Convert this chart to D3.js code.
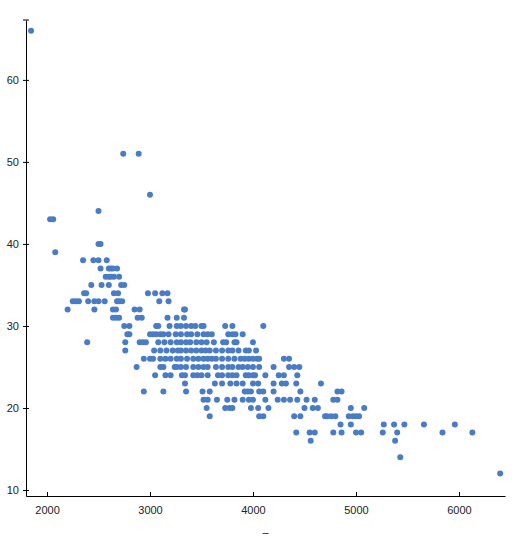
<!DOCTYPE html>
<html>
<head>
<meta charset="utf-8">
<script src="https://d3js.org/d3.v7.min.js"></script>
<style>
body { margin: 0; background: #fff; }
text { font-family: "Liberation Sans", Arial, sans-serif; font-size: 11px; fill: #222; }
</style>
</head>
<body>
<div class="holder"></div>
<script>
// mpg rows: weights for each integer mpg value
var mpgRows = [66, 51, 46, 44, 43, 40, 39, 38, 37, 36, 35, 34, 33, 32, 31, 30, 29, 28, 27, 26, 25, 24, 23, 22, 21, 20, 19, 18, 17, 16, 14, 12];
var weightRows = [
    [1845],
    [2740, 2890],
    [3000],
    [2500],
    [2030, 2060],
    [2500, 2520],
    [2080],
    [2350, 2450, 2500, 2580],
    [2520, 2600, 2620, 2640, 2680],
    [2570, 2600, 2620, 2650, 2700],
    [2430, 2530, 2600, 2720, 2750],
    [2360, 2380, 2650, 2690, 2980, 3050, 3120, 3170],
    [2250, 2280, 2310, 2400, 2460, 2500, 2560, 2680, 2700, 2730, 3090, 3180],
    [2200, 2460, 2640, 2670, 2850, 2900, 3330, 3340],
    [2640, 2670, 2700, 2880, 2920, 3170, 3260, 3330],
    [2750, 2800, 3060, 3080, 3190, 3260, 3300, 3350, 3400, 3440, 3500, 3520, 3730, 3800, 4100],
    [2780, 2800, 3000, 3030, 3060, 3100, 3130, 3180, 3250, 3300, 3360, 3400, 3460, 3520, 3560, 3600, 3760, 3800, 3830, 3900],
    [2390, 2760, 2900, 2930, 2960, 3080, 3140, 3200, 3260, 3300, 3350, 3390, 3450, 3500, 3550, 3620, 3710, 3740, 3820, 3840, 4000],
    [2760, 3040, 3100, 3160, 3220, 3270, 3300, 3350, 3400, 3450, 3500, 3540, 3580, 3640, 3700, 3760, 3800, 3860, 3930, 3960, 4030],
    [2940, 3000, 3030, 3100, 3150, 3200, 3260, 3300, 3360, 3420, 3470, 3520, 3560, 3600, 3640, 3700, 3760, 3820, 3880, 3920, 3960, 4000, 4040, 4060, 4300, 4350],
    [2870, 3100, 3130, 3240, 3260, 3300, 3350, 3420, 3470, 3520, 3560, 3640, 3700, 3760, 3800, 3860, 3900, 3950, 4000, 4060, 4200, 4350, 4400, 4450],
    [3050, 3150, 3200, 3310, 3340, 3420, 3460, 3500, 3560, 3660, 3700, 3760, 3800, 3840, 3930, 3960, 4000, 4020, 4120, 4250, 4300, 4430],
    [3340, 3630, 3700, 3780, 3840, 3900, 4000, 4050, 4200, 4280, 4320, 4420, 4660],
    [2940, 3130, 3350, 3510, 3580, 3920, 3950, 3980, 4060, 4100, 4200, 4460, 4820, 4860],
    [3520, 3560, 3650, 3750, 3820, 3900, 3960, 4000, 4120, 4240, 4300, 4360, 4430, 4520, 4600, 4780, 4820],
    [3550, 3730, 3770, 3800, 3980, 4050, 4150, 4500, 4580, 4630, 4950, 5080],
    [3580, 4060, 4100, 4400, 4460, 4700, 4720, 4760, 4800, 4930, 4970, 5000, 5030],
    [4850, 4950, 5270, 5370, 5470, 5660, 5960],
    [4420, 4550, 4600, 4780, 4860, 5000, 5050, 5260, 5400, 5840, 6130],
    [4560, 5380],
    [5430],
    [6400]
];
var xTicks = [2000, 3000, 4000, 5000, 6000];
var yTicks = [10, 20, 30, 40, 50, 60];

var points = [];
mpgRows.forEach(function(m, i) {
    weightRows[i].forEach(function(w) { points.push({weight: w, mpg: m}); });
});

var width = 524, height = 540;
var mLeft = 26, mRight = 505, mTop = 20, mBottom = 496;

var x = d3.scaleLinear().domain([1796, 6447]).range([mLeft, mRight]);
var y = d3.scaleLinear().domain([9.27, 67.3]).range([mBottom, mTop]);

var svg = d3.select(".holder").append("svg")
    .attr("width", width)
    .attr("height", height);

svg.append("g")
    .attr("transform", "translate(0," + mBottom + ")")
    .call(d3.axisBottom(x).tickValues(xTicks).tickFormat(d3.format("d")).tickSize(-4).tickSizeOuter(0).tickPadding(10))
    .call(g => g.select(".domain").attr("stroke", "#000"));

svg.append("g")
    .attr("transform", "translate(" + mLeft + ",0)")
    .call(d3.axisLeft(y).tickValues(yTicks).tickFormat(d3.format("d")).tickSize(3).tickSizeOuter(0).tickPadding(4))
    .call(g => g.select(".domain").attr("stroke", "#000"))
    .call(g => g.selectAll(".tick line").attr("x1", 3).attr("x2", -3));

svg.selectAll("text").style("font-size", "11px").style("font-family", "Liberation Sans, Arial, sans-serif");

// little cap at the top of the y axis
svg.append("line")
    .attr("x1", mLeft - 3).attr("x2", mLeft + 3)
    .attr("y1", mTop).attr("y2", mTop)
    .attr("stroke", "#000");

svg.append("text")
    .attr("x", (mLeft + mRight) / 2)
    .attr("y", 536)
    .attr("text-anchor", "middle")
    .text("–");

svg.selectAll("circle.pt")
    .data(points).enter()
    .append("circle")
    .attr("class", "pt")
    .attr("cx", d => x(d.weight))
    .attr("cy", d => y(d.mpg))
    .attr("r", 3)
    .style("fill", "#4a7cc5");
</script>
</body>
</html>
